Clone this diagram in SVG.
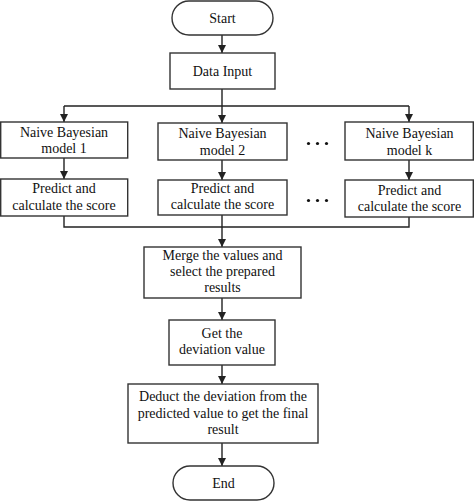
<svg xmlns="http://www.w3.org/2000/svg" width="474" height="502" viewBox="0 0 474 502">
<defs>
<marker id="ah" viewBox="0 0 10 10" refX="10" refY="5" markerWidth="8" markerHeight="8" markerUnits="userSpaceOnUse" orient="auto">
<path d="M0,0 L10,5 L0,10 z" fill="#222"/>
</marker>
<style>
.box{fill:#fff;stroke:#333;stroke-width:1.4}
.ln{fill:none;stroke:#222;stroke-width:1.4}
.arr{fill:none;stroke:#222;stroke-width:1.4;marker-end:url(#ah)}
text{font-family:"Liberation Serif","Times New Roman",serif;font-size:14px;fill:#111;text-anchor:middle}
.dot{fill:#111}
</style>
</defs>
<rect width="474" height="502" fill="#fff"/>
<g id="connectors">
<path class="arr" d="M222,35 V53"/>
<path class="ln" d="M222,89 V106 M64,106 H409"/>
<path class="arr" d="M64,106 V122"/>
<path class="arr" d="M222,106 V123"/>
<path class="arr" d="M409,106 V122"/>
<path class="arr" d="M64,158 V179"/>
<path class="arr" d="M222,160 V180"/>
<path class="arr" d="M409,160 V180"/>
<path class="ln" d="M64,216 V227 H409 V217 M222,215 V227"/>
<path class="arr" d="M222,227 V247"/>
<path class="arr" d="M222,298 V320"/>
<path class="arr" d="M222,365 V384"/>
<path class="arr" d="M222,443 V466"/>
</g>
<g id="start">
<rect class="box" x="172" y="1" width="101" height="34" rx="17"/>
<text x="222.5" y="23">Start</text>
</g>
<g id="data-input">
<rect class="box" x="170" y="53" width="105" height="36"/>
<text x="222.5" y="76">Data Input</text>
</g>
<g id="model1">
<rect class="box" x="0.7" y="122" width="127" height="36"/>
<text x="64" y="137">Naive Bayesian</text>
<text x="64" y="153">model 1</text>
</g>
<g id="model2">
<rect class="box" x="158" y="123" width="129" height="37"/>
<text x="222.5" y="138">Naive Bayesian</text>
<text x="222.5" y="155">model 2</text>
</g>
<g id="modelk">
<rect class="box" x="345" y="122" width="128.3" height="38"/>
<text x="409.5" y="138">Naive Bayesian</text>
<text x="409.5" y="155">model k</text>
</g>
<g id="dots1">
<circle class="dot" cx="308.5" cy="143.5" r="1.6"/>
<circle class="dot" cx="317.5" cy="143.5" r="1.6"/>
<circle class="dot" cx="326.5" cy="143.5" r="1.6"/>
</g>
<g id="predict1">
<rect class="box" x="0.7" y="179" width="127" height="37"/>
<text x="64" y="193">Predict and</text>
<text x="64" y="210">calculate the score</text>
</g>
<g id="predict2">
<rect class="box" x="158" y="180" width="129" height="35"/>
<text x="222.5" y="193">Predict and</text>
<text x="222.5" y="209">calculate the score</text>
</g>
<g id="predictk">
<rect class="box" x="345" y="180" width="128.3" height="37"/>
<text x="409.5" y="195">Predict and</text>
<text x="409.5" y="211">calculate the score</text>
</g>
<g id="dots2">
<circle class="dot" cx="308.5" cy="200.5" r="1.6"/>
<circle class="dot" cx="317.5" cy="200.5" r="1.6"/>
<circle class="dot" cx="326.5" cy="200.5" r="1.6"/>
</g>
<g id="merge">
<rect class="box" x="144" y="247" width="157" height="51"/>
<text x="222.5" y="260">Merge the values and</text>
<text x="222.5" y="276">select the prepared</text>
<text x="222.5" y="292">results</text>
</g>
<g id="deviation">
<rect class="box" x="169" y="320" width="106" height="45"/>
<text x="222" y="338">Get the</text>
<text x="222" y="354">deviation value</text>
</g>
<g id="deduct">
<rect class="box" x="128" y="384" width="190" height="59"/>
<text x="223" y="401">Deduct the deviation from the</text>
<text x="223" y="418">predicted value to get the final</text>
<text x="223" y="434">result</text>
</g>
<g id="end">
<rect class="box" x="173" y="466" width="101" height="34" rx="17"/>
<text x="223.5" y="488">End</text>
</g>
</svg>
